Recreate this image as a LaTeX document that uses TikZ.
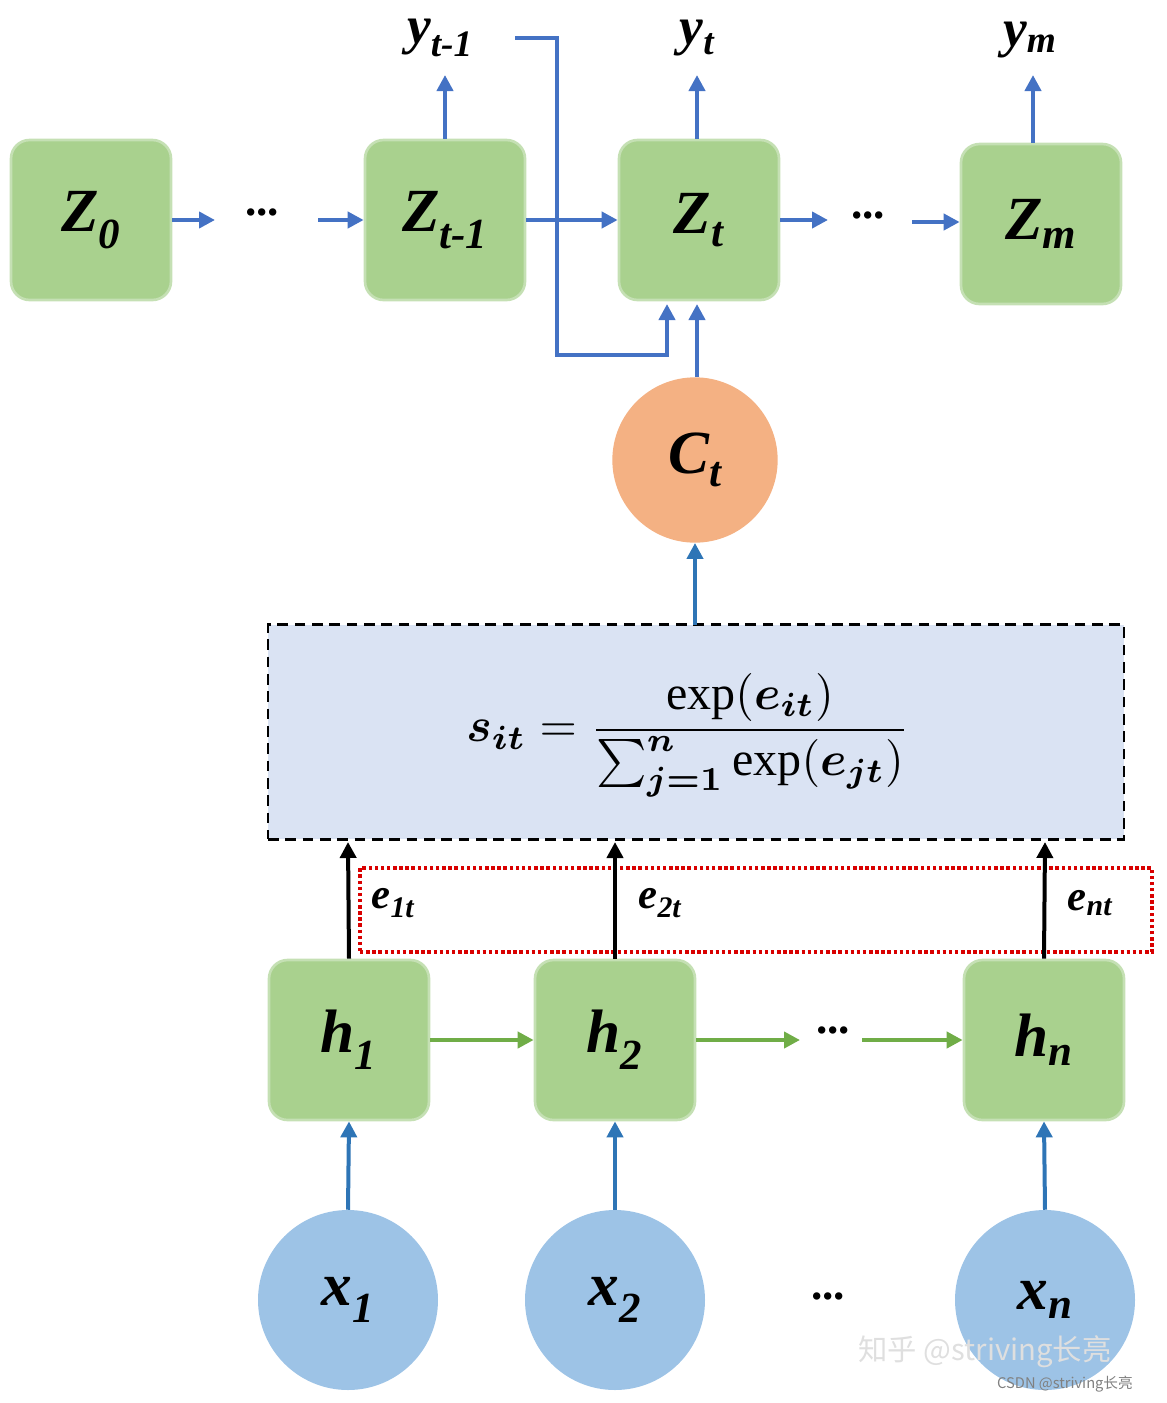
\documentclass[tikz,border=0pt]{standalone}
\usepackage{fontspec}
\usepackage{amsmath}
\usepackage{graphicx}
\setmainfont{Liberation Serif}
\newfontfamily\cjkf{Noto Sans CJK SC}
\usetikzlibrary{arrows.meta}
\definecolor{gfill}{HTML}{A9D18E}
\definecolor{gline}{HTML}{C5E0B4}
\definecolor{bl}{HTML}{4472C4}
\definecolor{bd}{HTML}{2E75B6}
\definecolor{orf}{HTML}{F4B183}
\definecolor{xf}{HTML}{9DC3E6}
\definecolor{boxf}{HTML}{DAE3F3}
\definecolor{garr}{HTML}{70AD47}
\tikzset{
 gbox/.style={draw=gline,line width=2pt,fill=gfill,rounded corners=14pt,minimum width=120pt,minimum height=120pt,inner sep=0pt,font=\fontsize{46}{46}\selectfont\bfseries\itshape},
 circ/.style={circle,minimum size=#1,inner sep=0pt,font=\fontsize{46}{46}\selectfont\bfseries\itshape},
 lab/.style={font=\fontsize{40}{40}\selectfont\bfseries\itshape},
 elab/.style={font=\fontsize{32}{32}\selectfont\bfseries\itshape},
 tip/.style={-{Triangle[length=12pt,width=12pt]}},
 ba/.style={draw=bl,line width=3pt,tip},
 bda/.style={draw=bd,line width=3pt,tip},
 ka/.style={draw=black,line width=3pt,tip},
 ga/.style={draw=garr,line width=3pt,tip},
 dots/.style={font=\fontsize{34}{34}\selectfont\bfseries},
}
\begin{document}
\begin{tikzpicture}[x=0.75pt,y=-0.75pt]
\useasboundingbox (0,0) rectangle (1167,1403);
% top row
\node[gbox] (z0) at (91,220) {Z\textsubscript{0}};
\node[gbox] (zt1) at (445,220) {Z\textsubscript{t-1}};
\node[gbox] (zt) at (699,220) {Z\textsubscript{t}};
\node[gbox] (zm) at (1041,224) {Z\textsubscript{m}};
\coordinate (a1) at (215,220); \coordinate (a2) at (318,220);
\coordinate (a3) at (828,220); \coordinate (a4) at (912,222);
\node[dots] (d1) at (262,212) {...};
\node[dots] (d2) at (868,215) {...};
\draw[ba] (z0.east) -- (a1);
\draw[ba] (a2) -- (zt1.west);
\draw[ba] (zt1.east) -- (zt.west);
\draw[ba] (zt.east) -- (a3);
\draw[ba] (a4) -- (zm.west |- a4);
\node[lab] (yt1) at (440,38) {y\textsubscript{t-1}};
\node[lab] (yt) at (697,38) {y\textsubscript{t}};
\node[lab] (ym) at (1030,40) {y\textsubscript{m}};
\draw[ba] (zt1.north) -- (445,75);
\draw[ba] (zt.north -| 697,0) -- (697,75);
\draw[ba] (zm.north -| 1033,0) -- (1033,75);
\coordinate (ya) at (515,38);
\draw[ba] (ya) -- (557,38) -- (557,355) -- (667,355) -- (667,304);
% context
\node[circ=124pt,fill=orf] (ct) at (695,460) {C\textsubscript{t}};
\draw[ba] (ct.north -| 697,0) -- (697,304);
% softmax box
\node[draw=black,line width=1.8pt,dash pattern=on 8pt off 5pt,fill=boxf,minimum width=642pt,minimum height=161pt,inner sep=0pt] (sb) at (696,732) {};
\node (fm) at (688,735) {\scalebox{3.6}{$\boldsymbol{s_{it}}=\dfrac{\exp(\boldsymbol{e_{it}})}{\sum_{\boldsymbol{j=1}}^{\boldsymbol{n}}\exp(\boldsymbol{e_{jt}})}$}};
\draw[bda] (695,625) -- (ct.south);
% red dotted
\node[draw=red!85!black,dotted,line width=2.6pt,minimum width=594pt,minimum height=63pt,inner sep=0pt] (rb) at (756,910) {};
% h row
\node[gbox] (h1) at (349,1040) {h\textsubscript{1}};
\node[gbox] (h2) at (615,1040) {h\textsubscript{2}};
\node[gbox] (hn) at (1044,1040) {h\textsubscript{n}};
\node[dots] (d3) at (833,1030) {...};
\coordinate (g1) at (800,1040); \coordinate (g2) at (862,1040);
\draw[ga] (h1.east) -- (h2.west);
\draw[ga] (h2.east) -- (g1);
\draw[ga] (g2) -- (hn.west);
\draw[ka] (h1.north) -- (348,842);
\draw[ka] (h2.north) -- (615,842);
\draw[ka] (hn.north) -- (1045,842);
\node[elab] (e1) at (393,903) {e\textsubscript{1t}};
\node[elab] (e2) at (660,903) {e\textsubscript{2t}};
\node[elab] (en) at (1090,903) {e\textsubscript{nt}};
% x row
\node[circ=135pt,fill=xf] (x1) at (348,1300) {x\textsubscript{1}};
\node[circ=135pt,fill=xf] (x2) at (615,1300) {x\textsubscript{2}};
\node[circ=135pt,fill=xf] (xn) at (1045,1300) {x\textsubscript{n}};
\node[dots] (d4) at (828,1296) {...};
\draw[bda] (x1.north) -- (h1.south);
\draw[bda] (x2.north) -- (h2.south);
\draw[bda] (xn.north) -- (hn.south);
% watermarks
\node[text=gray!25,font=\cjkf\fontsize{22}{22}\selectfont] (wm1) at (985,1352) {知乎 @striving长亮};
\node[text=gray,font=\cjkf\fontsize{11}{11}\selectfont] (wm2) at (1065,1384) {CSDN @striving长亮};
\end{tikzpicture}
\end{document}
